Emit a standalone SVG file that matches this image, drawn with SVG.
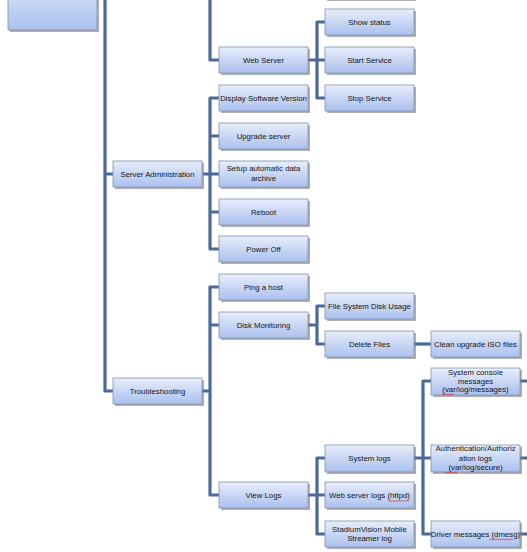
<svg xmlns="http://www.w3.org/2000/svg" width="527" height="552" viewBox="0 0 527 552">
<defs>
<linearGradient id="g" x1="0" y1="0" x2="0" y2="1">
<stop offset="0" stop-color="#e8eefc"/>
<stop offset="1" stop-color="#aac0ee"/>
</linearGradient>
</defs>
<style>
.b{fill:url(#g);stroke:#8292ad;stroke-width:0.8}
.s{fill:#7a7a7a;opacity:0.6}
.c{fill:none;stroke:#4b6a99;stroke-width:3.2;stroke-linejoin:round}
text{font-family:"Liberation Sans",Arial,sans-serif;font-size:7.8px;fill:#151515;text-anchor:middle}
.sq{fill:none;stroke:#e02020;stroke-width:0.7}
</style>
<rect width="527" height="552" fill="#ffffff"/>
<g id="connectors">
<path class="c" d="M105,-5 V391 H113 M105,174 H113"/>
<path class="c" d="M210,-5 V60 H219"/>
<path class="c" d="M203,174 H210 M219,98 H210 V249 H219 M210,136 H219 M210,174 H219 M210,212 H219"/>
<path class="c" d="M202,391 H210 M219,287 H210 V495 H219 M210,325 H219"/>
<path class="c" d="M308,60 H317 M325,22 H317 V98 H325 M317,60 H325"/>
<path class="c" d="M308,325 H317 M325,306 H317 V344 H325"/>
<path class="c" d="M414,344 H431"/>
<path class="c" d="M308,495 H317 M325,458 H317 V534 H325 M317,495 H325"/>
<path class="c" d="M414,458 H423 M431,381 H423 V534 H431 M423,458 H431"/>
<path class="c" d="M520,381 H530 M520,458 H530 M520,534 H530"/>
</g>
<g id="n-root"><rect class="s" x="10" y="-28" width="89" height="60"/><rect class="b" x="8" y="-30" width="89" height="60"/></g>
<g id="n-top"><rect class="s" x="327" y="-25" width="89" height="26"/><rect class="b" x="325" y="-27" width="89" height="26"/></g>
<g id="n-webserver"><rect class="s" x="221" y="49" width="89" height="26"/><rect class="b" x="219" y="47" width="89" height="26"/><text x="263.5" y="62.5">Web Server</text></g>
<g id="n-showstatus"><rect class="s" x="327" y="11" width="89" height="26"/><rect class="b" x="325" y="9" width="89" height="26"/><text x="369.5" y="24.5">Show status</text></g>
<g id="n-start"><rect class="s" x="327" y="49" width="89" height="26"/><rect class="b" x="325" y="47" width="89" height="26"/><text x="369.5" y="62.5">Start Service</text></g>
<g id="n-stop"><rect class="s" x="327" y="87" width="89" height="26"/><rect class="b" x="325" y="85" width="89" height="26"/><text x="369.5" y="100.5">Stop Service</text></g>
<g id="n-serveradmin"><rect class="s" x="115" y="163" width="89" height="26"/><rect class="b" x="113" y="161" width="89" height="26"/><text x="157.5" y="176.5">Server Administration</text></g>
<g id="n-display"><rect class="s" x="221" y="87" width="89" height="26"/><rect class="b" x="219" y="85" width="89" height="26"/><text x="263.5" y="100.5">Display Software Version</text></g>
<g id="n-upgrade"><rect class="s" x="221" y="125" width="89" height="26"/><rect class="b" x="219" y="123" width="89" height="26"/><text x="263.5" y="138.5">Upgrade server</text></g>
<g id="n-setup"><rect class="s" x="221" y="163" width="89" height="26"/><rect class="b" x="219" y="161" width="89" height="26"/><text x="263.5" y="171">Setup automatic data</text><text x="263.5" y="181">archive</text></g>
<g id="n-reboot"><rect class="s" x="221" y="201" width="89" height="26"/><rect class="b" x="219" y="199" width="89" height="26"/><text x="263.5" y="214.5">Reboot</text></g>
<g id="n-poweroff"><rect class="s" x="221" y="238" width="89" height="26"/><rect class="b" x="219" y="236" width="89" height="26"/><text x="263.5" y="251.5">Power Off</text></g>
<g id="n-troubleshooting"><rect class="s" x="115" y="380" width="89" height="26"/><rect class="b" x="113" y="378" width="89" height="26"/><text x="157.5" y="393.5">Troubleshooting</text></g>
<g id="n-ping"><rect class="s" x="221" y="276" width="89" height="26"/><rect class="b" x="219" y="274" width="89" height="26"/><text x="263.5" y="289.5">Ping a host</text></g>
<g id="n-disk"><rect class="s" x="221" y="314" width="89" height="26"/><rect class="b" x="219" y="312" width="89" height="26"/><text x="263.5" y="327.5">Disk Monitoring</text></g>
<g id="n-fsdisk"><rect class="s" x="327" y="295" width="89" height="26"/><rect class="b" x="325" y="293" width="89" height="26"/><text x="369.5" y="308.5">File System Disk Usage</text></g>
<g id="n-delete"><rect class="s" x="327" y="333" width="89" height="26"/><rect class="b" x="325" y="331" width="89" height="26"/><text x="369.5" y="346.5">Delete Files</text></g>
<g id="n-clean"><rect class="s" x="433" y="333" width="89" height="26"/><rect class="b" x="431" y="331" width="89" height="26"/><text x="475.5" y="346.5">Clean upgrade ISO files</text></g>
<g id="n-viewlogs"><rect class="s" x="221" y="484" width="89" height="26"/><rect class="b" x="219" y="482" width="89" height="26"/><text x="263.5" y="497.5">View Logs</text></g>
<g id="n-syslogs"><rect class="s" x="327" y="447" width="89" height="27"/><rect class="b" x="325" y="445" width="89" height="27"/><text x="369.5" y="461">System logs</text></g>
<g id="n-weblogs"><rect class="s" x="327" y="484" width="89" height="26"/><rect class="b" x="325" y="482" width="89" height="26"/><text x="369.5" y="497.5">Web server logs (httpd)</text><path class="sq" d="M388,501.5 l1.5,-1 l1.5,1 l1.5,-1 l1.5,1 l1.5,-1 l1.5,1 l1.5,-1 l1.5,1 l1.5,-1 l1.5,1 l1.5,-1 l1.5,1 l1.5,-1 l1.5,1"/></g>
<g id="n-svm"><rect class="s" x="327" y="523" width="89" height="26"/><rect class="b" x="325" y="521" width="89" height="26"/><text x="369.5" y="531.5">StadiumVision Mobile</text><text x="369.5" y="541">Streamer log</text></g>
<g id="n-console"><rect class="s" x="433" y="370" width="89" height="27"/><rect class="b" x="431" y="368" width="89" height="27"/><text x="475.5" y="375">System console</text><text x="475.5" y="383.5">messages</text><text x="475.5" y="392">(var/log/messages)</text><path class="sq" d="M442,395 l1.5,-1 l1.5,1 l1.5,-1 l1.5,1 l1.5,-1 l1.5,1 l1.5,-1 l1.5,1"/></g>
<g id="n-auth"><rect class="s" x="433" y="447" width="89" height="27"/><rect class="b" x="431" y="445" width="89" height="27"/><text x="475.5" y="451">Authentication/Authoriz</text><text x="475.5" y="460.5">ation logs</text><text x="475.5" y="470">(var/log/secure)</text><path class="sq" d="M445,473 l1.5,-1 l1.5,1 l1.5,-1 l1.5,1 l1.5,-1 l1.5,1 l1.5,-1 l1.5,1"/></g>
<g id="n-driver"><rect class="s" x="433" y="523" width="89" height="26"/><rect class="b" x="431" y="521" width="89" height="26"/><text x="475.5" y="536.5">Driver messages (dmesg)</text><path class="sq" d="M489,540 l1.5,-1 l1.5,1 l1.5,-1 l1.5,1 l1.5,-1 l1.5,1 l1.5,-1 l1.5,1 l1.5,-1 l1.5,1 l1.5,-1 l1.5,1 l1.5,-1 l1.5,1 l1.5,-1 l1.5,1"/></g>
</svg>
